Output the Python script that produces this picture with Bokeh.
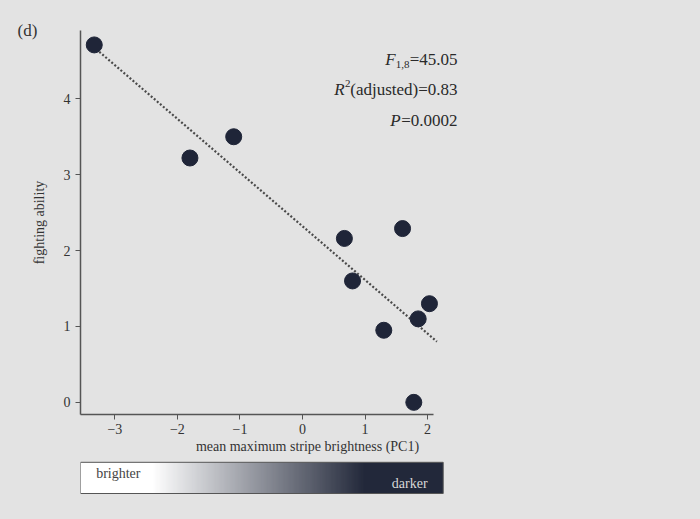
import numpy as np
from bokeh.plotting import figure
from bokeh.layouts import column
from bokeh.models import Label, Range1d, FixedTicker
from bokeh.embed import file_html
from bokeh.resources import INLINE

# data
pc1 = [-3.33, -1.8, -1.1, 0.67, 1.6, 0.8, 1.3, 1.85, 2.03, 1.78]
fighting = [4.71, 3.22, 3.5, 2.16, 2.29, 1.6, 0.95, 1.1, 1.3, 0.0]
fit_x = [-3.25, 2.15]
fit_y = [4.62, 0.8]
x_ticks = [-3, -2, -1, 0, 1, 2]
y_ticks = [0, 1, 2, 3, 4]

BG = "#e3e3e3"
INK = "#1f2538"
SERIF = "Liberation Serif"

p = figure(width=684, height=457, output_backend="svg", toolbar_location=None,
           x_range=Range1d(-3.55, 3.71), y_range=Range1d(-0.16, 4.9),
           min_border_left=80, min_border_right=150, min_border_top=30,
           min_border_bottom=43)
p.background_fill_color = None
p.border_fill_color = None
p.outline_line_color = None
p.grid.visible = False

p.title.text = "(d)"
p.title.align = "left"
p.title.offset = -63
p.title.standoff = -18
p.title.text_font = SERIF
p.title.text_font_size = "17px"
p.title.text_font_style = "normal"
p.title.text_color = "#333333"

p.xaxis.ticker = FixedTicker(ticks=x_ticks)
p.yaxis.ticker = FixedTicker(ticks=y_ticks)
p.xaxis.bounds = (-3.55, 2.1)
p.xaxis.axis_label = "mean maximum stripe brightness (PC1)"
p.yaxis.axis_label = "fighting ability"
for ax in (p.xaxis, p.yaxis):
    ax.axis_line_color = "#555555"
    ax.axis_line_width = 1.5
    ax.major_tick_line_color = "#555555"
    ax.major_tick_in = 0
    ax.major_tick_out = 5
    ax.minor_tick_line_color = None
    ax.major_label_text_font = SERIF
    ax.major_label_text_font_size = "14px"
    ax.major_label_text_color = "#333333"
    ax.axis_label_text_font = SERIF
    ax.axis_label_text_font_style = "normal"
    ax.axis_label_text_color = "#333333"
    ax.axis_label_text_font_size = "14px"
p.xaxis.major_label_standoff = 4
p.xaxis.axis_label_standoff = 2
p.yaxis.axis_label_standoff = 14

p.line(fit_x, fit_y, line_color="#4a4a4a", line_width=2.2, line_dash="2 2")
p.scatter(pc1, fighting, size=16, color=INK)

tx = 2.48
stat_style = dict(text_font=SERIF, text_color="#2a2a2a", text_baseline="middle",
                  text_align="right")
# F(1,8)
p.add_layout(Label(x=tx, y=4.52, text="=45.05", text_font_size="17px", **stat_style))
p.add_layout(Label(x=tx, y=4.52, x_offset=-48, y_offset=-5, text="1,8",
                   text_font_size="11px", **stat_style))
p.add_layout(Label(x=tx, y=4.52, x_offset=-62, text="F", text_font_size="17px",
                   text_font_style="italic", **stat_style))
# R2 adjusted
p.add_layout(Label(x=tx, y=4.12, text="(adjusted)=0.83", text_font_size="17px", **stat_style))
p.add_layout(Label(x=tx, y=4.12, x_offset=-107, y_offset=6, text="2",
                   text_font_size="11px", **stat_style))
p.add_layout(Label(x=tx, y=4.12, x_offset=-113, text="R", text_font_size="17px",
                   text_font_style="italic", **stat_style))
# P
p.add_layout(Label(x=tx, y=3.72, text="=0.0002", text_font_size="17px", **stat_style))
p.add_layout(Label(x=tx, y=3.72, x_offset=-57, text="P", text_font_size="17px",
                   text_font_style="italic", **stat_style))

# brightness scale bar under the axis
bar = figure(width=684, height=40, output_backend="svg", toolbar_location=None,
             x_range=p.x_range, y_range=Range1d(0, 1),
             min_border_left=80, min_border_right=150, min_border_top=0,
             min_border_bottom=0)
bar.background_fill_color = None
bar.border_fill_color = None
bar.outline_line_color = None
bar.axis.visible = False
bar.grid.visible = False

# one-row RGBA image: white on the left, ramping to dark navy
n = 300
t = np.clip((np.linspace(-3.55, 2.25, n) + 2.4) / 3.4, 0, 1)
light = np.array([255, 255, 255])
dark = np.array([34, 40, 58])
rgb = (light[None, :] * (1 - t[:, None]) + dark[None, :] * t[:, None]).astype(np.uint32)
img = np.empty((1, n), dtype=np.uint32)
view = img.view(dtype=np.uint8).reshape((1, n, 4))
view[0, :, 0] = rgb[:, 0]
view[0, :, 1] = rgb[:, 1]
view[0, :, 2] = rgb[:, 2]
view[0, :, 3] = 255
bar.image_rgba(image=[img], x=-3.55, y=0.1, dw=5.8, dh=0.78)
bar.quad(left=[-3.55], right=[2.25], bottom=[0.1], top=[0.88], fill_color=None,
         line_color="#555555", line_width=1)
bar.add_layout(Label(x=-3.3, y=0.6, text="brighter", text_font=SERIF,
                     text_font_size="14px", text_color="#444444",
                     text_baseline="middle"))
bar.add_layout(Label(x=2.0, y=0.35, text="darker", text_font=SERIF,
                     text_font_size="14px", text_color="#d8d8d8",
                     text_baseline="middle", text_align="right"))

layout = column(p, bar, spacing=0)
html = file_html(layout, INLINE)
html = html.replace("<head>", "<head><style>body{background:%s;}</style>" % BG, 1)
open("out.html", "w").write(html)
